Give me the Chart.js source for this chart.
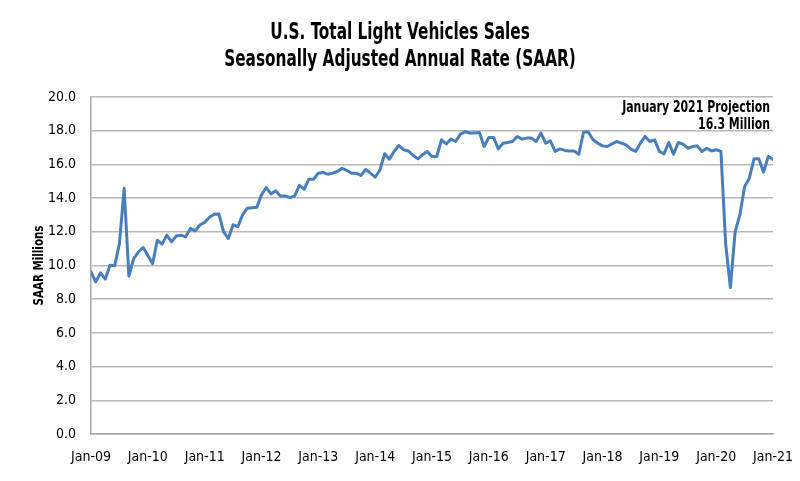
<!DOCTYPE html>
<html>
<head>
<meta charset="utf-8">
<script src="https://cdn.jsdelivr.net/npm/chart.js@4.4.1/dist/chart.umd.min.js"></script>
<style>
    html, body { margin: 0; padding: 0; background: #fff; }
    #wrap { width: 800px; height: 481px; }
</style>
</head>
<body>
<div id="wrap"><canvas id="saasChart"></canvas></div>
<script>
//============================================= Data =============================================//
const yearLabels = ['Jan-09', 'Jan-10', 'Jan-11', 'Jan-12', 'Jan-13', 'Jan-14', 'Jan-15', 'Jan-16', 'Jan-17', 'Jan-18', 'Jan-19', 'Jan-20', 'Jan-21'];

// monthly SAAR, millions, Jan-09 .. Jan-21
const sales2009 = [9.62, 9.03, 9.56, 9.19, 10.02, 9.98, 11.3, 14.58, 9.37, 10.4, 10.8, 11.07];
const sales2010 = [10.6, 10.1, 11.5, 11.27, 11.8, 11.4, 11.75, 11.8, 11.7, 12.2, 12.06, 12.4];
const sales2011 = [12.56, 12.86, 13.04, 13.06, 12.0, 11.6, 12.42, 12.3, 13.0, 13.4, 13.43, 13.45];
const sales2012 = [14.2, 14.62, 14.25, 14.43, 14.13, 14.13, 14.03, 14.13, 14.76, 14.52, 15.12, 15.12];
const sales2013 = [15.48, 15.52, 15.42, 15.48, 15.58, 15.77, 15.65, 15.48, 15.48, 15.34, 15.71, 15.48];
const sales2014 = [15.24, 15.67, 16.63, 16.31, 16.77, 17.12, 16.87, 16.8, 16.53, 16.33, 16.57, 16.77];
const sales2015 = [16.47, 16.47, 17.46, 17.22, 17.5, 17.36, 17.8, 17.94, 17.86, 17.86, 17.9, 17.06];
const sales2016 = [17.6, 17.6, 16.92, 17.26, 17.3, 17.36, 17.66, 17.5, 17.56, 17.56, 17.36, 17.86];
const sales2017 = [17.26, 17.4, 16.77, 16.92, 16.83, 16.8, 16.79, 16.6, 17.92, 17.92, 17.46, 17.26];
const sales2018 = [17.1, 17.06, 17.22, 17.36, 17.26, 17.16, 16.9, 16.77, 17.26, 17.66, 17.36, 17.46];
const sales2019 = [16.77, 16.63, 17.3, 16.6, 17.3, 17.2, 16.96, 17.06, 17.1, 16.77, 16.96, 16.8];
const sales2020 = [16.87, 16.77, 11.3, 8.69, 12.0, 13.0, 14.68, 15.18, 16.33, 16.33, 15.54, 16.47];
const sales2021 = [16.3];

const yTicks = [0, 2, 4, 6, 8, 10, 12, 14, 16, 18, 20];

const titleLines = ['U.S. Total Light Vehicles Sales', 'Seasonally Adjusted Annual Rate (SAAR)'];
const noteLines = ['January 2021 Projection', '16.3 Million'];
const yTitle = 'SAAR Millions';

const allSales = [].concat(sales2009, sales2010, sales2011, sales2012, sales2013, sales2014,
    sales2015, sales2016, sales2017, sales2018, sales2019, sales2020, sales2021);

//============================================= Chart =============================================//
const FONT = '"DejaVu Sans Condensed", "DejaVu Sans", sans-serif';
Chart.defaults.font.family = FONT;
Chart.defaults.color = '#000';

// condensed bold text: the reference uses a narrow face we do not have, so squeeze horizontally
function squeezedText(ctx, text, x, y, size, squeeze, align) {
    ctx.save();
    ctx.font = 'bold ' + size + 'px ' + FONT;
    ctx.fillStyle = '#000';
    ctx.textBaseline = 'alphabetic';
    ctx.textAlign = align;
    ctx.translate(x, y);
    ctx.scale(squeeze, 1);
    ctx.fillText(text, 0, 0);
    ctx.restore();
}

const chartTexts = {
    id: 'chartTexts',
    afterDraw(chart) {
        const { ctx, chartArea } = chart;
        const cx = 400;

        // title
        squeezedText(ctx, titleLines[0], cx, 39, 23, 0.74, 'center');
        squeezedText(ctx, titleLines[1], cx, 66, 23, 0.74, 'center');

        // projection note
        squeezedText(ctx, noteLines[0], chartArea.right - 3, 112, 16, 0.76, 'right');
        squeezedText(ctx, noteLines[1], chartArea.right - 3, 129, 16, 0.76, 'right');

        // y axis title
        ctx.save();
        ctx.translate(43, (chartArea.top + chartArea.bottom) / 2);
        ctx.rotate(-Math.PI / 2);
        squeezedText(ctx, yTitle, 0, 0, 14, 0.82, 'center');
        ctx.restore();
    }
};

const lineConfig = {
    type: 'line',
    data: {
        datasets: [{
            data: allSales.map((v, i) => ({ x: i, y: v })),
            borderColor: '#4a7ebb',
            borderWidth: 3,
            pointRadius: 0,
            tension: 0,
            borderJoinStyle: 'round',
            borderCapStyle: 'round'
        }]
    },
    options: {
        responsive: true,
        maintainAspectRatio: false,
        animation: false,
        layout: {
            autoPadding: false,
            padding: { left: 0, right: 24, top: 97, bottom: 0 }
        },
        plugins: {
            legend: { display: false },
            tooltip: { enabled: false },
            title: { display: false }
        },
        scales: {
            x: {
                type: 'linear',
                min: 0,
                max: (yearLabels.length - 1) * 12,
                grid: { display: false },
                border: { display: true, color: '#a6a6a6', width: 1.5 },
                ticks: {
                    stepSize: 12,
                    autoSkip: false,
                    maxRotation: 0,
                    padding: 7,
                    font: { size: 14 },
                    callback: (v) => yearLabels[v / 12]
                },
                afterFit: (scale) => { scale.height = 47; }
            },
            y: {
                min: yTicks[0],
                max: yTicks[yTicks.length - 1],
                afterBuildTicks: (scale) => { scale.ticks = yTicks.map(v => ({ value: v })); },
                grid: { color: '#b8b8b8', lineWidth: 1.5, drawTicks: false },
                border: { display: true, color: '#a6a6a6', width: 1.5 },
                ticks: {
                    padding: 15,
                    font: { size: 14 },
                    callback: (v) => v.toFixed(1)
                },
                afterFit: (scale) => { scale.width = 91; }
            }
        }
    },
    plugins: [chartTexts]
};

new Chart(document.getElementById('saasChart'), lineConfig);
</script>
</body>
</html>
